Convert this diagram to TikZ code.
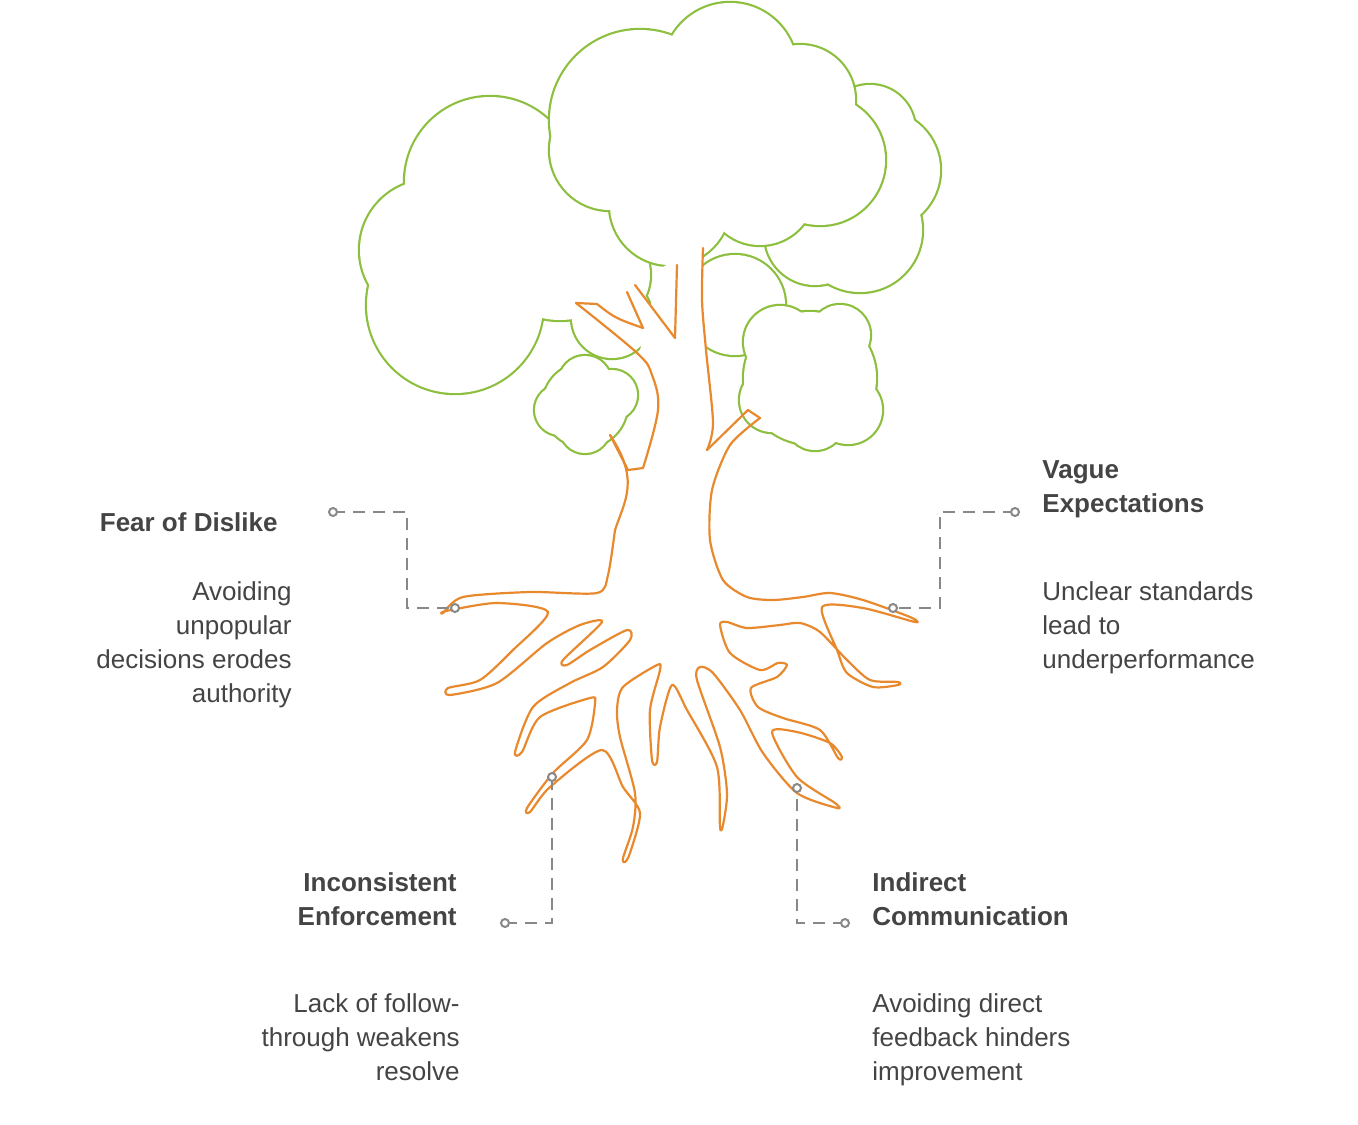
\documentclass[tikz,border=0pt]{standalone}
\usepackage{fontspec}
\setmainfont{Liberation Sans}
\definecolor{leaf}{HTML}{8DBF3E}
\definecolor{bark}{HTML}{E8892E}
\definecolor{txt}{HTML}{444444}
\definecolor{dash}{HTML}{888888}
\tikzset{
  cl/.style={draw=leaf,line width=2.2pt},
  tr/.style={draw=bark,line width=1.1pt,line cap=round,line join=round},
  lead/.style={draw=dash,line width=1.2pt,dash pattern=on 6pt off 4pt},
  dotend/.style={draw=dash,line width=1pt,fill=white,circle,inner sep=0pt,minimum size=4pt},
  ttl/.style={font=\fontsize{13pt}{17pt}\selectfont\bfseries,text=txt,inner sep=0pt},
  dsc/.style={font=\fontsize{13pt}{17pt}\selectfont,text=txt,inner sep=0pt}
}
\newcommand{\cluster}[1]{%
  \foreach \a/\b/\r in {#1}{\path[cl] (\a,\b) circle (\r);}
  \foreach \a/\b/\r in {#1}{\fill[white] (\a,\b) circle (\r);}}
\begin{document}
\begin{tikzpicture}[x=0.5pt,y=-0.5pt]
\useasboundingbox (0,0) rectangle (1358,1124);
% left cluster
\cluster{490/182/85, 455/305/88, 430/250/70, 560/240/80, 600/275/50, 612/318/40, 735/305/50}
% right back cluster
\cluster{880/170/60, 860/230/62, 815/235/50, 870/130/45}
% main cluster
\cluster{640/120/90, 730/70/67, 800/100/55, 820/160/65, 670/205/60, 760/190/55, 610/150/60, 700/140/90}
% small clusters
\cluster{585/405/42, 560/410/25, 612/395/25, 585/382/26, 585/428/25}
\cluster{810/378/66, 840/335/30, 780/342/36, 772/400/32, 848/410/34, 815/420/30}
% trunk fill
\fill[white] (660,268) -- (702,250) -- (710,430) -- (707,452) -- (650,470) -- (658,400) -- (640,350) -- cycle;
% trunk lines
\draw[tr] plot[smooth,tension=0.6] coordinates {(643,468) (658,410) (652,375) (637,353) (576,303)};
\draw[tr] (576,303) -- (597,304) .. controls (615,318) .. (643,328) -- (627,292);
\draw[tr] (635,285) -- (675,338) -- (677,265);
\draw[tr] plot[smooth,tension=0.5] coordinates {(703,248) (702,300) (706,350) (713,423) (707,450)};
\draw[tr] (707,450) -- (748,410);
\draw[tr] (610,435) -- (628,470) -- (643,468);
\draw[tr] (610,435) .. controls (640,480) and (625,500) .. (615,530);
% roots
\draw[tr] plot[smooth,tension=0.45] coordinates {
 (615,530) (608,575) (597,593) (530,592) (463,597) (443,613) (446,611) (497,603) (548,612)
 (513,650) (480,680) (448,688) (450,695) (497,683) (547,643) (580,625) (602,622)
 (563,660) (567,665) (590,650) (627,630) (630,640) (603,667) (570,683) (533,707)
 (515,752) (522,752) (540,717) (590,698) (595,703) (587,740) (553,773) (527,808)
 (530,812) (550,787) (602,750) (623,787) (640,813) (630,853) (625,862) (623,858)
 (633,827) (635,793) (620,737) (617,710) (623,687) (657,665) (660,670) (650,710)
 (652,760) (657,762) (660,727) (672,685) (687,710) (717,767) (720,827) (723,825)
 (727,793) (720,747) (697,680) (700,667) (713,673) (740,710) (763,753) (797,793)
 (837,808) (835,803) (797,777) (772,732) (797,732) (830,743) (842,757) (838,758)
 (820,730) (783,718) (758,707) (751,688) (777,677) (787,665) (778,663) (760,670)
 (730,653) (720,625) (727,622) (747,628) (780,625) (800,623) (820,632) (847,660)
 (870,680) (898,682) (898,685) (873,687) (847,673) (837,650) (822,607) (863,608)
 (915,622) (910,617) (863,600) (830,593) (803,597) (773,600) (747,597) (723,580)
 (710,540) (712,490) (730,445) (760,418)};
\draw[tr] (748,410) -- (760,418);
% leaders
\coordinate (f0) at (333,512); \coordinate (f1) at (455,608);
\draw[lead] (f0) -| (407,608) -- (f1);
\coordinate (v0) at (1015,512); \coordinate (v1) at (893,608);
\draw[lead] (v0) -| (940,608) -- (v1);
\coordinate (i0) at (505,923); \coordinate (i1) at (552,777);
\draw[lead] (i0) -| (i1);
\coordinate (d0) at (845,923); \coordinate (d1) at (797,788);
\draw[lead] (d0) -| (d1);
\foreach \p in {f0,f1,v0,v1,i0,i1,d0,d1}{\node[dotend] at (\p) {};}
% texts
\node[ttl,anchor=base east] (t1) at (278,531) {Fear of Dislike};
\node[dsc,anchor=north east,align=right] (d1t) at (292,581) {Avoiding\\unpopular\\decisions erodes\\authority};
\node[ttl,anchor=north west,align=left] (t2) at (1042,460) {Vague\\Expectations};
\node[dsc,anchor=north west,align=left] (d2t) at (1042,581) {Unclear standards\\lead to\\underperformance};
\node[ttl,anchor=north east,align=right] (t3) at (457,872) {Inconsistent\\Enforcement};
\node[dsc,anchor=north east,align=right] (d3t) at (460,993) {Lack of follow-\\through weakens\\resolve};
\node[ttl,anchor=north west,align=left] (t4) at (872,872) {Indirect\\Communication};
\node[dsc,anchor=north west,align=left] (d4t) at (872,993) {Avoiding direct\\feedback hinders\\improvement};
\end{tikzpicture}
\end{document}
